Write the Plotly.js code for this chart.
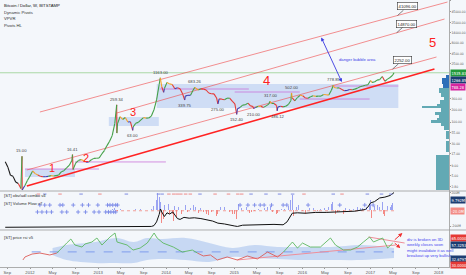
<!DOCTYPE html>
<html><head><meta charset="utf-8">
<script src="https://cdn.plot.ly/plotly-3.0.1.min.js"></script>
<style>html,body{margin:0;padding:0;background:#f4f7fb}#chart{width:466px;height:275px}</style>
</head><body><div id="chart"></div>
<script>
// ---------------- DATA ----------------
const priceDates = [
'2011-08-21','2011-09-04','2011-09-18','2011-10-02','2011-10-16','2011-10-30','2011-11-13','2011-11-19','2011-11-20','2011-12-04','2011-12-18',
'2012-01-01','2012-01-15','2012-01-29','2012-02-12','2012-02-26','2012-03-11','2012-03-25','2012-04-08','2012-04-22','2012-05-06','2012-05-20','2012-06-03','2012-06-17','2012-07-01','2012-07-15','2012-07-29','2012-08-12','2012-08-16','2012-08-19','2012-09-02','2012-09-16','2012-09-30','2012-10-14','2012-10-28','2012-11-11','2012-11-25','2012-12-09','2012-12-23',
'2013-01-06','2013-01-20','2013-02-03','2013-02-17','2013-03-03','2013-03-17','2013-03-31','2013-04-10','2013-04-11','2013-04-14','2013-04-28','2013-05-12','2013-05-26','2013-06-09','2013-06-23','2013-07-05','2013-07-07','2013-07-21','2013-08-04','2013-08-18','2013-09-01','2013-09-15','2013-09-29','2013-10-13','2013-10-27','2013-11-10','2013-11-24','2013-11-30','2013-12-08','2013-12-18','2013-12-22',
'2014-01-05','2014-01-19','2014-02-02','2014-02-16','2014-03-02','2014-03-16','2014-03-30','2014-04-10','2014-04-13','2014-04-27','2014-05-11','2014-05-25','2014-06-03','2014-06-08','2014-06-22','2014-07-06','2014-07-20','2014-08-03','2014-08-17','2014-08-31','2014-09-14','2014-09-28','2014-10-05','2014-10-12','2014-10-26','2014-11-09','2014-11-23','2014-12-07','2014-12-21',
'2015-01-04','2015-01-14','2015-01-18','2015-02-01','2015-02-15','2015-03-01','2015-03-15','2015-03-29','2015-04-12','2015-04-14','2015-04-26','2015-05-10','2015-05-24','2015-06-07','2015-06-21','2015-07-05','2015-07-12','2015-07-19','2015-08-02','2015-08-16','2015-08-19','2015-08-23','2015-09-06','2015-09-20','2015-10-04','2015-10-18','2015-11-01','2015-11-04','2015-11-08','2015-11-22','2015-12-06','2015-12-20',
'2016-01-03','2016-01-17','2016-01-31','2016-02-14','2016-02-28','2016-03-13','2016-03-27','2016-04-10','2016-04-24','2016-05-08','2016-05-22','2016-06-05','2016-06-16','2016-06-19','2016-07-03','2016-07-17','2016-07-31','2016-08-14','2016-08-28','2016-09-11','2016-09-25','2016-10-09','2016-10-23','2016-11-06','2016-11-20','2016-12-04','2016-12-18',
'2017-01-01','2017-01-08','2017-01-22','2017-02-05','2017-02-19','2017-03-05','2017-03-19','2017-04-02','2017-04-16','2017-04-30','2017-05-07'];
const priceClose = [
11.0,8.2,5.2,4.9,3.6,3.3,2.5,15.0,2.3,2.9,3.9,
5.0,6.6,5.7,5.3,4.9,4.8,4.8,4.9,5.1,5.0,5.1,5.3,6.3,6.7,7.8,9.0,11.6,16.41,7.2,10.2,11.8,12.4,11.8,10.8,10.9,12.3,13.3,13.4,
13.6,17.0,20.5,27.0,34.5,47.0,93.0,259.34,54.0,90.0,134,115,128,100,101,63.0,76,93,98,112,128,124,125,139,196,340,800,1163.0,700,520,640,
900,830,800,630,670,630,470,339.75,420,440,440,580,683.26,650,590,630,620,590,500,480,475,380,275.0,360,355,345,375,375,320,
275,152.4,210,225,255,260,285,245,236,210.0,225,240,238,225,245,270,317.0,280,280,250,186.12,230,240,232,240,265,330,502.0,380,325,390,440,
430,380,375,405,430,415,420,420,460,455,445,580,778.85,680,660,665,610,570,575,608,600,620,655,705,740,765,790,
1000,900,920,1020,1050,1250,960,1080,1180,1350,1535.83];

const pivotDates  = ['2011-11-19','2012-08-16','2013-04-10','2013-07-05','2013-11-30','2014-04-10','2014-06-03','2014-10-05','2015-01-14','2015-04-14','2015-07-12','2015-08-19','2015-11-04','2016-06-16'];
const pivotPrices = [15.00,16.41,259.34,63.00,1163.00,339.75,683.26,275.00,152.40,210.00,317.00,186.12,502.00,778.85];
const pivotKinds  = ['H','H','H','L','H','L','H','L','L','L','H','L','H','H'];

// channel trend lines (log-parallel)
const chanStart      = ['2011-12-15','2011-12-15','2013-04-11','2012-02-23'];
const chanEnd        = ['2017-12-10','2017-12-21','2018-02-02','2018-02-18'];
const chanStartPrice = [2.87,6.97,165,174];
const chanEndPrice   = [1893,3685,30300,77900];

const calloutLine  = [3,2,1];
const calloutDates = ['2017-05-26','2017-05-21','2017-04-29'];
const calloutText  = ['41096.00','14870.00','2252.00'];

// consolidation boxes
const boxStart = ['2011-12-05','2013-02-27','2013-11-11'];
const boxEnd   = ['2012-08-29','2013-11-22','2017-05-30'];
const boxLow   = [4.71,80,217];
const boxHigh  = [7.37,132,825];

// dynamic pivot levels
const plStart = ['2011-12-05','2012-08-29','2013-11-27','2015-01-03','2015-12-18','2016-06-12'];
const plEnd   = ['2013-01-05','2013-12-30','2015-03-20','2015-12-18','2016-12-27','2017-05-30'];
const plPrice = [7.37,10.9,624,528,358,737];

const waveText   = ['1','2','3','4','5'];
const waveDates  = ['2012-04-27','2012-10-27','2013-07-06','2015-06-24','2017-11-30'];
const wavePrices = [7.8,13.6,174,1026,8455];

const bubbleArrowFrom = ['2016-04-08',11800];
const bubbleArrowTo   = ['2016-07-31',922];
const bubbleTextAt    = ['2016-07-04',3297];

// VPVR
const vpEdges  = [2,18,37,64,80,95,112,125,147,174,217,243,271,339,400,500,660,824,1150,1357];
const vpVolume = [13,3,3,5,8,18,12,10,14,8,27,12,9,5,8,10,6,7,3];

// Volume flow pane (M)
const flowDates = ['2011-08-21','2012-01-01','2012-06-01','2013-01-01','2013-06-01','2013-10-13','2013-10-27','2013-11-10','2013-11-24','2013-12-01','2013-12-08','2013-12-22','2014-01-05','2014-01-19','2014-02-05','2014-03-02','2014-03-16','2014-04-06','2014-05-04','2014-06-01','2014-07-06','2014-08-03','2014-09-07','2014-10-05','2014-11-09','2015-01-04','2015-01-18','2015-02-15','2015-04-12','2015-06-07','2015-08-02','2015-09-20','2015-10-11','2015-11-08','2015-12-06','2016-01-17','2016-03-13','2016-05-08','2016-06-19','2016-08-14','2016-10-09','2016-12-04','2016-12-18','2017-01-01','2017-01-22','2017-02-19','2017-03-19','2017-04-16','2017-05-07'];
const flowLine = [-215,-214,-213,-210,-207,-205,-195,-150,-60,6,-30,-85,-40,-55,-30,-110,-120,-95,-105,-100,-110,-125,-140,-165,-175,-200,-205,-190,-185,-185,-180,-185,-150,-45,-40,-45,-35,-35,-30,-25,-20,0,30,80,95,140,150,170,205];
const barDates = [
'2013-03-17','2013-03-31','2013-04-14','2013-04-28','2013-05-26','2013-06-23','2013-07-21','2013-08-18','2013-09-15','2013-10-13','2013-10-27','2013-11-10','2013-11-17','2013-11-24','2013-12-01','2013-12-08','2013-12-15','2013-12-22',
'2014-01-05','2014-01-12','2014-01-19','2014-02-02','2014-02-09','2014-02-16','2014-02-23','2014-03-09','2014-03-23','2014-04-06','2014-04-13','2014-04-27','2014-05-11','2014-05-25','2014-06-08','2014-06-22','2014-07-06','2014-07-20','2014-08-03','2014-08-17','2014-08-31','2014-09-14','2014-09-28','2014-10-05','2014-10-19','2014-11-09','2014-11-23','2014-12-07','2014-12-21',
'2015-01-04','2015-01-14','2015-01-25','2015-02-08','2015-02-22','2015-03-08','2015-03-22','2015-04-05','2015-04-19','2015-05-10','2015-05-24','2015-06-14','2015-06-28','2015-07-12','2015-07-26','2015-08-16','2015-08-23','2015-09-13','2015-09-27','2015-10-18','2015-11-01','2015-11-08','2015-11-15','2015-11-29','2015-12-13',
'2016-01-03','2016-01-17','2016-02-07','2016-02-28','2016-03-20','2016-04-10','2016-05-01','2016-05-22','2016-06-05','2016-06-12','2016-06-26','2016-07-10','2016-08-07','2016-08-21','2016-09-11','2016-10-02','2016-10-23','2016-11-06','2016-11-20','2016-12-11','2016-12-25',
'2017-01-01','2017-01-08','2017-01-22','2017-02-05','2017-02-19','2017-03-05','2017-03-12','2017-03-19','2017-04-02','2017-04-16','2017-04-23','2017-04-30','2017-05-07'];
const barValues = [
8,15,-20,10,-8,-10,8,6,-5,12,40,120,200,150,90,-160,-120,60,
110,70,-60,-50,-140,40,-90,35,-60,-80,50,-30,20,60,30,-40,20,-30,-50,-70,-30,-40,-80,-60,30,25,-30,-35,-50,
-60,-110,70,20,25,30,-40,-25,-20,12,-10,15,35,40,-30,-60,-40,10,12,40,120,180,-80,30,50,
-20,-50,20,15,-12,10,15,30,70,90,-60,-30,-50,15,12,10,25,20,15,30,60,
110,-100,40,50,30,90,-60,-80,40,30,50,80,100];
const flowBaseline = -15;
const signalTopDates = ['2012-02-15','2012-03-20','2012-06-10','2012-10-01','2013-01-10','2013-06-01','2013-11-20','2013-12-10','2014-01-15','2014-02-10','2014-03-01','2014-03-20','2014-04-15','2014-05-10','2014-07-01','2014-09-20','2014-12-01','2015-01-20','2015-02-10','2015-04-01','2015-06-20','2015-09-01','2015-11-10','2016-01-10','2016-06-15','2016-08-01','2016-12-15','2017-03-01','2017-04-20'];
const signalTopKind  = ['d','u','d','u','d','u','u','u','d','d','d','d','d','d','u','d','d','d','d','u','u','u','u','d','u','d','u','u','u'];
const signalMidDates = ['2012-02-23','2012-03-20','2012-04-16','2012-06-10','2012-06-25','2012-08-20','2012-10-08','2012-11-10','2012-12-30','2013-02-20','2013-03-05','2013-03-20','2013-04-05','2013-04-15','2015-02-01','2015-03-15','2015-04-20','2015-05-20','2015-06-10','2015-07-20','2015-09-20','2015-10-10','2016-02-01','2016-07-20','2016-12-01','2017-01-15'];
const signalLowDates = ['2012-02-10','2012-03-05','2012-03-30','2012-04-25','2012-06-20','2012-07-16','2012-09-15','2012-10-25','2012-12-10','2013-01-05','2013-02-10','2013-02-25','2013-03-10','2013-03-25','2013-04-05'];

// RSI pane
const rsiDates = ['2011-11-24','2011-12-05','2012-01-12','2012-02-23','2012-04-16','2012-05-24','2012-06-20','2012-07-16','2012-08-07','2012-08-29','2012-10-06','2012-10-22','2012-11-28','2012-12-25','2013-01-21','2013-03-05','2013-04-01','2013-04-12','2013-06-05','2013-07-07','2013-08-14','2013-09-21','2013-10-28','2013-11-13','2013-12-15','2014-02-08','2014-03-28','2014-05-21','2014-06-17','2014-07-19','2014-08-26','2014-10-02','2014-11-24','2015-01-17','2015-03-12','2015-05-05','2015-06-28','2015-08-21','2015-09-22','2015-11-09','2015-12-06','2016-01-02','2016-02-13','2016-04-07','2016-05-31','2016-06-27','2016-08-09','2016-09-16','2016-10-23','2016-11-24','2016-12-27','2017-01-17','2017-03-07','2017-04-03','2017-04-30'];
const rsiValues = [36.5,40.4,44.2,45.5,43,45.5,52,58.5,63.7,55.9,53.3,57.2,59.8,65,55.9,66.3,71.5,59.8,55.9,49.4,52,58.5,71.5,65,58.5,53.3,46.8,49.4,45.5,41.7,43,36.5,40.4,36.5,41.7,37.8,46.8,40.4,46.8,59.8,52,58.5,53.3,53.3,65,55.9,49.4,49.4,53.3,59.8,66.3,59.8,65,52,58.5];
const bandDates = ['2012-05-01','2012-07-15','2012-12-15','2013-04-10','2013-07-10','2013-09-20','2013-12-10','2014-04-15','2014-08-20','2014-12-20','2015-04-20','2015-08-20','2015-12-10','2016-06-01','2016-11-15','2017-05-07'];
const bandUpper = [52,55.9,59.8,65,59.8,65,63.7,65,58.5,52,55.9,53.3,53.3,53.3,55.9,52];
const bandLower = [43,36.5,32.6,32.6,32.6,36.5,37.8,36.5,33.9,40.4,39.1,37.8,36.5,36.5,36.5,39.1];
const rsiMid = 47;
const rsiMidSpan = ['2012-01-10','2017-05-07'];
const rsiTrendStart = ['2015-01-17','2016-12-21'];
const rsiTrendEnd   = ['2017-05-17','2017-07-03'];
const rsiTrendStartVal = [36.5,66.3];
const rsiTrendEndVal   = [55.9,58.5];
const rsiArrowTail = ['2017-05-03','2017-05-03'];
const rsiArrowTailVal = [61,60];
const rsiArrowHead = ['2017-06-21','2017-06-10'];
const rsiArrowHeadVal = [71.5,52];

const timeTickVals = ['2011-09-01','2012-01-01','2012-05-01','2012-09-01','2013-01-01','2013-05-01','2013-09-01','2014-01-01','2014-05-01','2014-09-01','2015-01-01','2015-05-01','2015-09-01','2016-01-01','2016-05-01','2016-09-01','2017-01-01','2017-05-01','2017-09-01','2018-01-01'];
const timeTickText = ['Sep','2012','May','Sep','2013','May','Sep','2014','May','Sep','2015','May','Sep','2016','May','Sep','2017','May','Sep','2018'];
const priceTickVals = [2.8,5,9,17,30,55,100,200,360,2500,4500,8000,14000,25000,45000,85000];

// ---------------- LAYOUT HELPERS ----------------
const PL = 449, PH = 267;
const px = v => v/PL, py = v => 1 - v/PH;
const X_RANGE = ['2011-07-24','2018-02-26'];
const LOG_RANGE = [0.337, 4.94];
const FONT = 'Liberation Sans, Arial, sans-serif';
const NARROW = 'Liberation Sans Narrow, DejaVu Sans Condensed, Liberation Sans, sans-serif';
const L10 = Math.log10;
const traces = [];
const annotations = [];

// VPVR
const vpY = [], vpW = [], vpColors = [];
for (let i=0;i<vpVolume.length;i++){
  const a=L10(vpEdges[i]), b=L10(vpEdges[i+1]);
  vpY.push((a+b)/2); vpW.push((b-a)*0.88);
  vpColors.push(vpEdges[i] >= 660 ? '#2d6fb8' : '#62a9b4');
}
traces.push({type:'bar',orientation:'h',x:vpVolume,y:vpY,width:vpW,base:0,xaxis:'x4',yaxis:'y4',
  marker:{color:vpColors,line:{width:0}},hoverinfo:'skip'});

// boxes
for (let i=0;i<boxStart.length;i++){
  traces.push({type:'scatter',mode:'lines',x:[boxStart[i],boxEnd[i],boxEnd[i],boxStart[i],boxStart[i]],
    y:[boxLow[i],boxLow[i],boxHigh[i],boxHigh[i],boxLow[i]],fill:'toself',fillcolor:'rgba(110,155,230,0.28)',
    line:{width:0},xaxis:'x',yaxis:'y',hoverinfo:'skip'});
}
// pivot levels
for (let i=0;i<plStart.length;i++){
  traces.push({type:'scatter',mode:'lines',x:[plStart[i],plEnd[i]],y:[plPrice[i],plPrice[i]],
    line:{color:'rgba(200,110,215,0.75)',width:1},xaxis:'x',yaxis:'y',hoverinfo:'skip'});
}
// last price line
const lastClose = priceClose[priceClose.length-1];
traces.push({type:'scatter',mode:'lines',x:X_RANGE,y:[lastClose,lastClose],line:{color:'#a9d8a6',width:1},xaxis:'x',yaxis:'y',hoverinfo:'skip'});
// channels
for (let i=0;i<chanStart.length;i++){
  traces.push({type:'scatter',mode:'lines',x:[chanStart[i],chanEnd[i]],y:[chanStartPrice[i],chanEndPrice[i]],
    line:{color: i===0 ? '#ff2323' : 'rgba(240,70,70,0.75)', width: i===0 ? 1.6 : 0.8},xaxis:'x',yaxis:'y',hoverinfo:'skip'});
}
// price colored segments
const N = priceClose.length, MA = 6;
const segs = {};
for (let i=1;i<N;i++){
  let col;
  if (i < MA) col = '#1a1a1a';
  else {
    let s=0; for (let k=i-MA+1;k<=i;k++) s+=L10(priceClose[k]);
    const ma = Math.pow(10, s/MA);
    const up = priceClose[i] >= priceClose[i-1], above = priceClose[i] >= ma;
    col = up ? (above ? '#43a047' : '#3f3fb0') : (above ? '#f5a12a' : '#e53935');
  }
  if (!segs[col]) segs[col] = {x:[],y:[]};
  segs[col].x.push(priceDates[i-1],priceDates[i],null);
  segs[col].y.push(priceClose[i-1],priceClose[i],null);
}
Object.keys(segs).forEach(c=>{
  traces.push({type:'scatter',mode:'lines',x:segs[c].x,y:segs[c].y,line:{color:c,width:1.1},connectgaps:false,xaxis:'x',yaxis:'y',hoverinfo:'skip'});
});

// ---- middle pane
traces.push({type:'bar',x:barDates,y:barValues,width:5*86400000,base:0,
  marker:{color:barValues.map(v=>v>=0?'#9aa3f2':'#f38a85'),line:{width:0}},xaxis:'x',yaxis:'y2',hoverinfo:'skip'});
traces.push({type:'scatter',mode:'lines',x:['2013-04-01',priceDates[N-1]],y:[flowBaseline,flowBaseline],
  line:{color:'#f08a84',width:0.8,dash:'dot'},xaxis:'x',yaxis:'y2',hoverinfo:'skip'});
traces.push({type:'scatter',mode:'lines',x:flowDates,y:flowLine,line:{color:'#111',width:1},xaxis:'x',yaxis:'y2',hoverinfo:'skip'});
traces.push({type:'scatter',mode:'markers',x:signalTopDates,y:signalTopDates.map(()=>187),
  marker:{symbol:'line-ew',size:2.5,line:{width:1,color:signalTopKind.map(k=>k==='u'?'#7f8be0':'#ee8a88')}},xaxis:'x',yaxis:'y2',hoverinfo:'skip'});
traces.push({type:'scatter',mode:'markers',x:signalMidDates,y:signalMidDates.map(()=>54),
  marker:{symbol:'cross-thin',size:3,line:{width:0.8,color:'#6f7fe6'}},xaxis:'x',yaxis:'y2',hoverinfo:'skip'});
traces.push({type:'scatter',mode:'markers',x:signalLowDates,y:signalLowDates.map(()=>-30),
  marker:{symbol:'cross-thin',size:3,line:{width:0.8,color:'#6f7fe6'}},xaxis:'x',yaxis:'y2',hoverinfo:'skip'});

// ---- RSI pane
traces.push({type:'scatter',mode:'lines',x:bandDates,y:bandUpper,line:{width:0,shape:'spline'},xaxis:'x',yaxis:'y3',hoverinfo:'skip'});
traces.push({type:'scatter',mode:'lines',x:bandDates,y:bandLower,line:{width:0,shape:'spline'},fill:'tonexty',fillcolor:'rgba(125,165,232,0.38)',xaxis:'x',yaxis:'y3',hoverinfo:'skip'});
traces.push({type:'scatter',mode:'lines',x:rsiMidSpan,y:[rsiMid,rsiMid],line:{color:'#7f9ded',width:1,dash:'dash'},xaxis:'x',yaxis:'y3',hoverinfo:'skip'});
for (let i=0;i<rsiTrendStart.length;i++){
  traces.push({type:'scatter',mode:'lines',x:[rsiTrendStart[i],rsiTrendEnd[i]],y:[rsiTrendStartVal[i],rsiTrendEndVal[i]],
    line:{color:'#ef8f9a',width:1},xaxis:'x',yaxis:'y3',hoverinfo:'skip'});
}
const rsegs = {};
for (let i=1;i<rsiValues.length;i++){
  const c = (rsiValues[i]+rsiValues[i-1])/2 >= rsiMid ? '#5cb860' : '#dd5c58';
  if (!rsegs[c]) rsegs[c] = {x:[],y:[]};
  rsegs[c].x.push(rsiDates[i-1],rsiDates[i],null);
  rsegs[c].y.push(rsiValues[i-1],rsiValues[i],null);
}
Object.keys(rsegs).forEach(c=>{
  traces.push({type:'scatter',mode:'lines',x:rsegs[c].x,y:rsegs[c].y,line:{color:c,width:0.9},xaxis:'x',yaxis:'y3',hoverinfo:'skip'});
});

// ---------------- ANNOTATIONS ----------------
const tiny = (c)=>({family:FONT,size:4.2,color:c});
const tinyN = (c)=>({family:NARROW,size:4,color:c});
// header texts
[['Bitcoin / Dollar, W, BITSTAMP',5,'#111'],['Dynamic Pivots',12,'#333'],['VPVR',18.5,'#333'],['Pivots HL',25,'#333']].forEach(t=>{
  annotations.push({xref:'paper',yref:'paper',x:px(2),y:py(t[1]),xanchor:'left',yanchor:'middle',text:t[0],showarrow:false,font:tiny(t[2])});
});
[['[ST] obv/adl combo v4',195],['[ST] Volume Flow v7',203],['[ST] price rsi v5',237]].forEach(t=>{
  annotations.push({xref:'paper',yref:'paper',x:px(2),y:py(t[1]),xanchor:'left',yanchor:'middle',text:t[0],showarrow:false,font:tiny('#333')});
});
// pivots
for (let i=0;i<pivotDates.length;i++){
  const hi = pivotKinds[i]==='H';
  annotations.push({x:pivotDates[i],y:L10(pivotPrices[i]),xref:'x',yref:'y',text:pivotPrices[i].toFixed(2),showarrow:false,
    yanchor: hi?'bottom':'top', yshift: hi?1:-1, font:tiny('#444')});
}
// waves
for (let i=0;i<waveText.length;i++){
  annotations.push({x:waveDates[i],y:L10(wavePrices[i]),xref:'x',yref:'y',text:waveText[i],showarrow:false,
    font:{family:FONT,size: i>2?13:11,color:'#ff2020'}});
}
// callouts on channels
function chanAt(i,date){
  const t0=Date.parse(chanStart[i]),t1=Date.parse(chanEnd[i]),t=Date.parse(date);
  const a=L10(chanStartPrice[i]),b=L10(chanEndPrice[i]);
  return a+(b-a)*(t-t0)/(t1-t0);
}
for (let i=0;i<calloutLine.length;i++){
  annotations.push({x:calloutDates[i],y:chanAt(calloutLine[i],calloutDates[i]),xref:'x',yref:'y',text:calloutText[i],
    showarrow:true,arrowhead:0,arrowwidth:0.6,arrowcolor:'#333',ax:10,ay:-9,standoff:0,
    bgcolor:'#ffffff',bordercolor:'#333',borderwidth:0.6,borderpad:1,font:tiny('#222')});
}
// bubble arrow
annotations.push({x:bubbleArrowTo[0],y:L10(bubbleArrowTo[1]),xref:'x',yref:'y',axref:'x',ayref:'y',
  ax:bubbleArrowFrom[0],ay:L10(bubbleArrowFrom[1]),showarrow:true,arrowside:'end+start',arrowhead:2,arrowsize:0.8,arrowwidth:0.9,arrowcolor:'#3a3ae0',text:''});
annotations.push({x:bubbleTextAt[0],y:L10(bubbleTextAt[1]),xref:'x',yref:'y',xanchor:'left',text:'danger bubble area',showarrow:false,font:tiny('#3a3ae8')});
// RSI arrows
for (let i=0;i<rsiArrowHead.length;i++){
  annotations.push({x:rsiArrowHead[i],y:rsiArrowHeadVal[i],xref:'x',yref:'y3',axref:'x',ayref:'y3',
    ax:rsiArrowTail[i],ay:rsiArrowTailVal[i],showarrow:true,arrowhead:2,arrowsize:0.8,arrowwidth:1,arrowcolor:'#f03030',text:''});
}
annotations.push({xref:'paper',yref:'paper',x:px(405),y:py(235),xanchor:'left',yanchor:'top',align:'left',
  text:'div is broken on 3D<br>weekly closes soon<br>might invalidate it as well<br>breakout up very bullish',showarrow:false,font:tiny('#4545f0')});
// right-side value boxes
[[lastClose.toFixed(2),73,'#239a3b'],['1266.85',80,'#1c3d72'],['788.28',87,'#d6249f'],
 ['9.792M',200,'#1c3d72'],['-20.0M',211,'#f28a84'],
 ['65.0000',238,'#e53935'],['57.3253',245,'#1c3d72'],['32.6797',259,'#1c3d72'],['30.0000',265,'#e53935']].forEach(t=>{
  annotations.push({xref:'paper',yref:'paper',x:1.002,y:py(t[1]),xanchor:'left',yanchor:'middle',text:t[0],showarrow:false,
    bgcolor:t[2],borderpad:0.5,font:tinyN('#ffffff')});
});

// ---------------- LAYOUT ----------------
const axisCommon = {showgrid:false,zeroline:false,showline:true,linecolor:'#9a9a9a',linewidth:0.8,ticks:'outside',ticklen:1.5,tickcolor:'#9a9a9a',tickfont:tiny('#555'),fixedrange:true};
const yTickFont = {family:NARROW,size:3.3,color:'#555'};
const layout = {
  width:466,height:275,margin:{l:0,r:17,t:0,b:8},
  paper_bgcolor:'#f4f7fb',plot_bgcolor:'#f4f7fb',showlegend:false,bargap:0,
  font:{family:FONT},
  xaxis:Object.assign({},axisCommon,{type:'date',range:X_RANGE,anchor:'y3',tickvals:timeTickVals,ticktext:timeTickText}),
  yaxis:Object.assign({},axisCommon,{type:'log',domain:[0.2846,1],range:LOG_RANGE,side:'right',anchor:'x',ticklen:1,
    tickvals:priceTickVals,ticktext:priceTickVals.map(v=>v.toFixed(2)),tickfont:yTickFont}),
  yaxis2:Object.assign({},axisCommon,{domain:[0.1386,0.2846],range:[-248,224],side:'right',anchor:'x',ticklen:1,
    tickvals:[200,-200],ticktext:['200M','-200M'],tickfont:yTickFont}),
  yaxis3:Object.assign({},axisCommon,{domain:[0,0.1386],range:[27.4,75.4],side:'right',anchor:'x',showticklabels:false,ticks:''}),
  xaxis4:{overlaying:'x',range:[449,0],visible:false,anchor:'y4',fixedrange:true},
  yaxis4:{overlaying:'y',range:LOG_RANGE,visible:false,anchor:'x4',fixedrange:true},
  shapes:[
    {type:'line',xref:'paper',yref:'paper',x0:0,x1:466/449,y0:0.2846,y1:0.2846,line:{color:'#9a9a9a',width:0.8}},
    {type:'line',xref:'paper',yref:'paper',x0:0,x1:466/449,y0:0.1386,y1:0.1386,line:{color:'#9a9a9a',width:0.8}}
  ],
  annotations:annotations
};
Plotly.newPlot('chart',traces,layout,{displayModeBar:false,staticPlot:true});
</script></body></html>
